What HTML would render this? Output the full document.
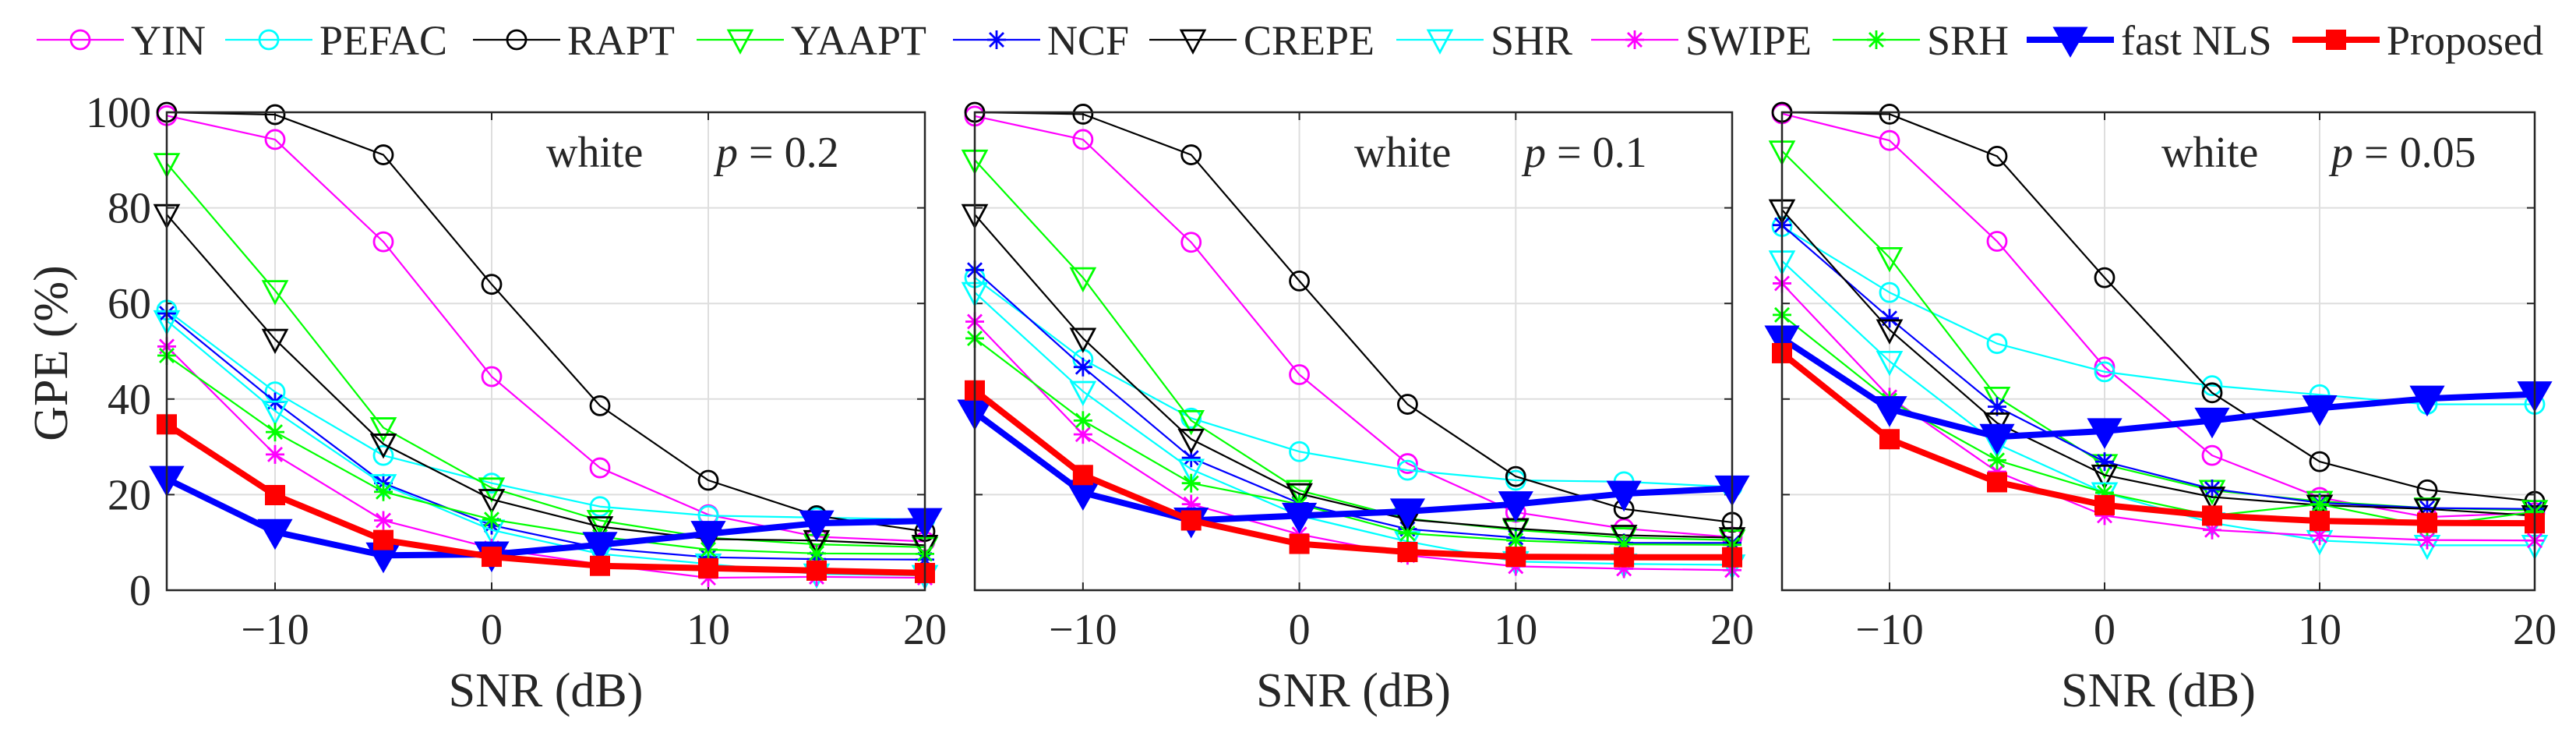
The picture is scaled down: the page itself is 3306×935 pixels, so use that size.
<!DOCTYPE html>
<html><head><meta charset="utf-8"><style>
html,body{margin:0;padding:0;background:#fff}
svg{display:block}
svg text{font-family:"Liberation Serif","Times New Roman","Times","Nimbus Roman","DejaVu Serif",serif !important;fill:#262626}
</style></head><body>
<svg id="chart" width="3306" height="935" viewBox="0 0 3306 935" xmlns="http://www.w3.org/2000/svg">
<g id="legend"></g>
<g id="panels"></g>
</svg>
<script>
const snr = [-15,-10,-5,0,5,10,15,20];
const xTicks = [-10,0,10,20];
const xTickLabels = ["\u221210","0","10","20"];
const yTicks = [0,20,40,60,80,100];
const methods = ["YIN","PEFAC","RAPT","YAAPT","NCF","CREPE","SHR","SWIPE","SRH","fast NLS","Proposed"];
const pLabels = ["p = 0.2","p = 0.1","p = 0.05"];
// panel 1 (p=0.2)
const p1_YIN=[99.3,94.3,72.9,44.7,25.6,15.8,11.2,10.2];
const p1_PEFAC=[58.6,41.5,28.2,22.4,17.5,15.6,15.2,14.8];
const p1_RAPT=[100,99.5,91.1,64,38.6,23,15.6,12.3];
const p1_YAAPT=[89.3,62.7,34,21.4,14.6,11,9.6,9];
const p1_NCF=[57.9,39.4,22.4,13.6,8.8,6.9,6.5,6.4];
const p1_CREPE=[78.6,52.5,30.6,19,13.3,10.7,10.4,9.4];
const p1_SHR=[56.4,37.5,22.1,12.6,7.6,5.5,3.4,3.1];
const p1_SWIPE=[51,28.4,14.6,8.8,5.4,2.6,2.8,2.6];
const p1_SRH=[49.1,33.1,20.6,14.8,11.2,8.5,7.7,7.6];
const p1_NLS=[23.3,12.2,7.3,7.5,9.5,11.8,14,14.5];
const p1_Prop=[34.7,19.9,10.5,7,5.1,4.6,4.1,3.6];
// panel 2 (p=0.1)
const p2_YIN=[99.2,94.3,72.8,45.1,26.5,16.3,12.9,11.1];
const p2_PEFAC=[65.4,48.3,36,29,25.1,23,22.7,21.6];
const p2_RAPT=[100,99.6,91.1,64.7,38.9,23.8,17,14.2];
const p2_YAAPT=[90,65.4,35.5,20.9,15,12.6,11,10.5];
const p2_NCF=[67,46.7,27.7,18.2,12.8,11,9.9,9.9];
const p2_CREPE=[78.6,52.7,31.6,20.2,14.8,12.9,11.5,11];
const p2_SHR=[62.3,41.6,25.3,15.6,10.2,6,5.5,5.3];
const p2_SWIPE=[56.2,32.6,18,11.7,7.3,5,4.5,4.2];
const p2_SRH=[52.7,35.5,22.4,18,11.9,10.4,9.6,9.5];
const p2_NLS=[37.2,20.4,14.6,15.6,16.5,18,20.2,21.3];
const p2_Prop=[41.8,24.1,14.6,9.7,8,7,6.9,6.9];
// panel 3 (p=0.05)
const p3_YIN=[99.7,94.1,73,46.7,28.2,19.4,15.3,16.2];
const p3_PEFAC=[76.1,62.3,51.6,45.7,42.8,40.9,38.9,38.9];
const p3_RAPT=[100,99.6,90.8,65.4,41.3,26.9,21,18.6];
const p3_YAAPT=[91.9,69.6,40.4,26.3,20.9,18.6,17.2,16.7];
const p3_NCF=[76.4,56.9,38.4,26.9,21.2,18.3,17.2,17];
const p3_CREPE=[79.6,54.5,35,24.1,19.5,17.8,17,15.6];
const p3_SHR=[68.9,47.9,30.6,20.4,14.1,10.4,9.4,9.4];
const p3_SWIPE=[64.2,40.4,24.8,15.6,12.6,11.4,10.5,10.4];
const p3_SRH=[57.6,39.7,27.2,20.4,15.6,18,13.4,16.4];
const p3_NLS=[52.7,37.9,32.1,33.3,35.5,38.1,40.1,41];
const p3_Prop=[49.6,31.6,22.6,17.8,15.6,14.5,14.1,14];

const panelData=[
 [p1_YIN,p1_PEFAC,p1_RAPT,p1_YAAPT,p1_NCF,p1_CREPE,p1_SHR,p1_SWIPE,p1_SRH,p1_NLS,p1_Prop],
 [p2_YIN,p2_PEFAC,p2_RAPT,p2_YAAPT,p2_NCF,p2_CREPE,p2_SHR,p2_SWIPE,p2_SRH,p2_NLS,p2_Prop],
 [p3_YIN,p3_PEFAC,p3_RAPT,p3_YAAPT,p3_NCF,p3_CREPE,p3_SHR,p3_SWIPE,p3_SRH,p3_NLS,p3_Prop]];

const styles=[
 {c:"#ff00ff",m:"o",w:2.2},{c:"#00ffff",m:"o",w:2.2},{c:"#000",m:"o",w:2.2},{c:"#00ff00",m:"v",w:2.2},
 {c:"#0000ff",m:"*",w:2.2},{c:"#000",m:"v",w:2.2},{c:"#00ffff",m:"v",w:2.2},{c:"#ff00ff",m:"*",w:2.2},
 {c:"#00ff00",m:"*",w:2.2},{c:"#0000ff",m:"V",w:8},{c:"#ff0000",m:"S",w:8}];
const panelsGeom=[{x0:214,x1:1187},{x0:1251,x1:2223},{x0:2287,x1:3253}];
const yTop=144, yBot=757;
const NS="http://www.w3.org/2000/svg";
function el(tag,attrs,parent){const e=document.createElementNS(NS,tag);for(const k in attrs)e.setAttribute(k,attrs[k]);if(parent)parent.appendChild(e);return e;}
function yScale(v){return yBot-(v/100)*(yBot-yTop);}
function xScaleFor(g){return v=>g.x0+(v+15)/35*(g.x1-g.x0);}
function marker(g,type,c,x,y){
 if(type==="o"){el("circle",{cx:x,cy:y,r:12,fill:"none",stroke:c,"stroke-width":2.8},g);}
 else if(type==="v"){el("polygon",{points:`${x-15},${y-12} ${x+15},${y-12} ${x},${y+16}`,fill:"none",stroke:c,"stroke-width":2.8},g);}
 else if(type==="*"){const r=12;el("path",{d:`M${x-r},${y}H${x+r}M${x},${y-r}V${y+r}M${x-9},${y-9}L${x+9},${y+9}M${x-9},${y+9}L${x+9},${y-9}`,stroke:c,"stroke-width":2.8},g);}
 else if(type==="V"){el("polygon",{points:`${x-20},${y-15} ${x+20},${y-15} ${x},${y+20}`,fill:c,stroke:c,"stroke-width":3},g);}
 else if(type==="S"){el("rect",{x:x-12,y:y-12,width:24,height:24,fill:c,stroke:c,"stroke-width":2},g);}
}
const leg=document.getElementById("legend");
const legX=[47,289,607,894,1223,1475,1792,2042,2352,2601,2942];
methods.forEach((m,i)=>{
 const g=el("g",{},leg);
 
 
 const s=styles[i];const x=legX[i];
 el("line",{x1:x,y1:51,x2:x+112,y2:51,stroke:s.c,"stroke-width":s.w},g);
 marker(g,s.m,s.c,x+56,51);
 const t=el("text",{x:x+121,y:70,"font-size":54},g);t.textContent=m;
});
const panels=document.getElementById("panels");
panelsGeom.forEach((pg,pi)=>{
 const xs=xScaleFor(pg);
 const g=el("g",{},panels);
 
 
 xTicks.forEach(t=>{const x=xs(t);el("line",{x1:x,y1:yTop,x2:x,y2:yBot,stroke:"#dedede","stroke-width":2},g);});
 yTicks.forEach(t=>{const y=yScale(t);el("line",{x1:pg.x0,y1:y,x2:pg.x1,y2:y,stroke:"#dedede","stroke-width":2},g);});
 xTicks.forEach(t=>{const x=xs(t);el("line",{x1:x,y1:yBot,x2:x,y2:yBot-10,stroke:"#262626","stroke-width":2},g);el("line",{x1:x,y1:yTop,x2:x,y2:yTop+10,stroke:"#262626","stroke-width":2},g);});
 yTicks.forEach(t=>{const y=yScale(t);el("line",{x1:pg.x0,y1:y,x2:pg.x0+10,y2:y,stroke:"#262626","stroke-width":2},g);el("line",{x1:pg.x1,y1:y,x2:pg.x1-10,y2:y,stroke:"#262626","stroke-width":2},g);});
 panelData[pi].forEach((vals,si)=>{
  const s=styles[si];
  const sg=el("g",{},g);
  
  
  const pts=vals.map((v,k)=>xs(snr[k])+","+yScale(v)).join(" ");
  el("polyline",{points:pts,fill:"none",stroke:s.c,"stroke-width":s.w,"stroke-linejoin":"round"},sg);
  vals.forEach((v,k)=>marker(sg,s.m,s.c,xs(snr[k]),yScale(v)));
 });
 el("rect",{x:pg.x0,y:yTop,width:pg.x1-pg.x0,height:yBot-yTop,fill:"none",stroke:"#262626","stroke-width":2.5},g);
 xTicks.forEach((t,k)=>{const tx=el("text",{x:xs(t),y:826,"font-size":56,"text-anchor":"middle"},g);tx.textContent=xTickLabels[k];});
 if(pi===0){yTicks.forEach(t=>{const tx=el("text",{x:194,y:yScale(t)+19,"font-size":56,"text-anchor":"end"},g);tx.textContent=String(t);});}
 const xl=el("text",{x:(pg.x0+pg.x1)/2,y:906,"font-size":62,"text-anchor":"middle"},g);
 
 
 xl.textContent="SNR (dB)";
 const wt=el("text",{x:pg.x0+487,y:214,"font-size":56},g);
 
 
 wt.textContent="white";
 const pt=el("text",{x:pg.x0+705,y:214,"font-size":56},g);
 
 
 const it=el("tspan",{"font-style":"italic"},pt);it.textContent="p";
 const rt=el("tspan",{},pt);rt.textContent=pLabels[pi].slice(1);
});
const yl=el("text",{x:0,y:0,"font-size":62,"text-anchor":"middle",transform:"translate(86,453) rotate(-90)"},panels);


yl.textContent="GPE (%)";
</script>
</body></html>
